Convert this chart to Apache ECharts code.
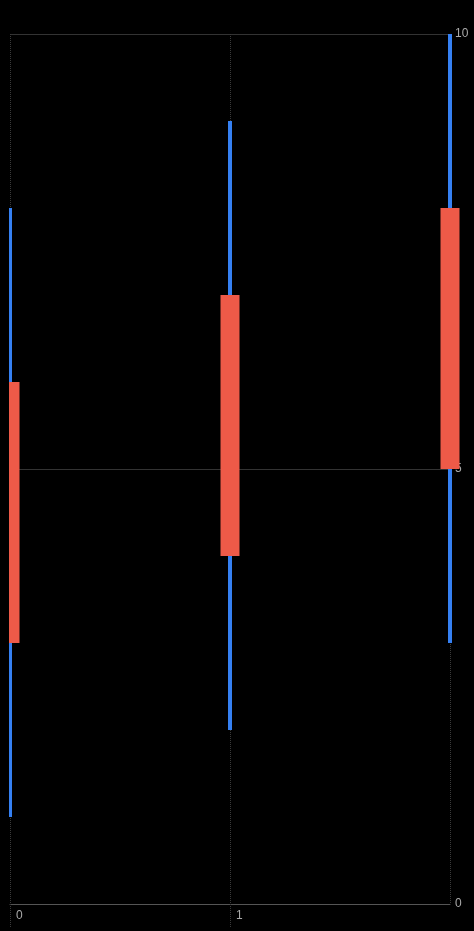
<!DOCTYPE html>
<html>
<head>
<meta charset="utf-8">
<style>
	html, body { margin:0; padding:0; background:#000; }
	#main { width:474px; height:931px; }
</style>
<script src="https://cdn.jsdelivr.net/npm/echarts@6/dist/echarts.min.js"></script>
</head>
<body>
<div id="main"></div>
<script>
// data
var positions = [0, 1, 2];
var lows   = [1, 2, 3];
var highs  = [8, 9, 10];
var opens  = [3, 4, 5];
var closes = [6, 7, 8];
var yTicks = [0, 5, 10];

var seriesData = positions.map(function (p, i) {
	return [p, opens[i], closes[i], lows[i], highs[i]];
});

function renderItem(params, api) {
	var x = api.value(0);
	var lowPt = api.coord([x, api.value(3)]);
	var highPt = api.coord([x, api.value(4)]);
	var openPt = api.coord([x, api.value(1)]);
	var closePt = api.coord([x, api.value(2)]);
	var barW = 19;
	var wickW = 4;
	var cs = params.coordSys;
	// only the left edge clips, like the picture
	var clipArea = { x: cs.x - 1, y: cs.y - 2, width: cs.width + 40, height: cs.height + 4 };
	var wick = echarts.graphic.clipRectByRect({
		x: lowPt[0] - wickW / 2,
		y: highPt[1],
		width: wickW,
		height: lowPt[1] - highPt[1]
	}, clipArea);
	var body = echarts.graphic.clipRectByRect({
		x: openPt[0] - barW / 2,
		y: Math.min(openPt[1], closePt[1]),
		width: barW,
		height: Math.abs(openPt[1] - closePt[1])
	}, clipArea);
	return {
		type: 'group',
		children: [
			wick && { type: 'rect', shape: wick, style: { fill: '#3580f2' } },
			body && { type: 'rect', shape: body, style: { fill: '#ee5a48' } }
		]
	};
}

var chart = echarts.init(document.getElementById('main'));
chart.setOption({
	backgroundColor: '#000',
	animation: false,
	grid: { left: 10, right: 24, top: 34, bottom: 27 },
	xAxis: {
		type: 'value',
		min: 0,
		max: 2,
		interval: 1,
		axisLine: { show: true, lineStyle: { color: '#555', width: 1 } },
		axisTick: { show: true, length: 24, lineStyle: { color: '#3a3a3a', type: 'dotted' } },
		axisLabel: {
			color: '#aaa',
			fontSize: 12,
			align: 'left',
			margin: 6,
			padding: [0, 0, 0, 6],
			showMaxLabel: false
		},
		splitLine: { show: true, lineStyle: { color: '#3a3a3a', type: 'dotted' } }
	},
	yAxis: {
		type: 'value',
		position: 'right',
		min: yTicks[0],
		max: yTicks[yTicks.length - 1],
		interval: yTicks[1] - yTicks[0],
		axisLine: { show: false },
		axisTick: { show: false },
		axisLabel: { color: '#aaa', fontSize: 12, margin: 5, padding: [3, 0, 0, 0] },
		splitLine: { show: true, lineStyle: { color: '#333', width: 1 } }
	},
	series: [{
		type: 'custom',
		renderItem: renderItem,
		clip: false,
		encode: { x: 0, y: [1, 2, 3, 4] },
		data: seriesData
	}]
});
</script>
</body>
</html>
